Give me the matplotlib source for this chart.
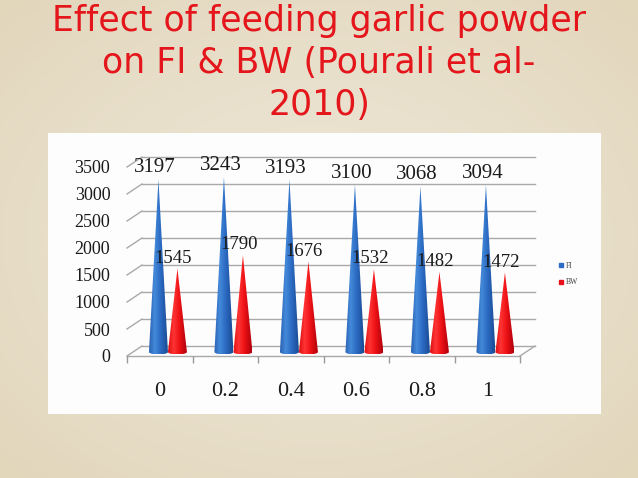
import matplotlib

matplotlib.use("Agg")
import matplotlib.pyplot as plt
import numpy as np
from matplotlib.colors import LinearSegmentedColormap
from matplotlib.lines import Line2D
from matplotlib.patches import PathPatch, Rectangle
from matplotlib.path import Path

# ---------- data ----------
doses = ["0", "0.2", "0.4", "0.6", "0.8", "1"]
fi_values = [3197, 3243, 3193, 3100, 3068, 3094]
bw_values = [1545, 1790, 1676, 1532, 1482, 1472]
series_names = ["FI", "BW"]
y_ticks = [0, 500, 1000, 1500, 2000, 2500, 3000, 3500]
title = "Effect of feeding garlic powder\non FI & BW (Pourali et al-\n2010)"

W, H = 638, 478
SERIF = "Liberation Serif"

# fake 3d geometry (data units of the front plane)
DEPTH_X, DEPTH_Y = 0.229, 185     # back wall offset
BASE_Y = 74                        # cones stand half way into the floor
CONE_W = 0.145                     # half width of a cone base
ELL_H = 45                         # half height of the base ellipse
FI_OFF, BW_OFF = 0.48, 0.77        # cone centres inside a category

BLUE = LinearSegmentedColormap.from_list(
    "blue", [(0, "#2a62b2"), (0.3, "#4489da"), (0.6, "#2c6cc3"), (1, "#1a4a94")])
RED = LinearSegmentedColormap.from_list(
    "red", [(0, "#dc0f12"), (0.3, "#ff3434"), (0.6, "#ee1216"), (1, "#b0000c")])


def px_box(left, top, right, bottom):
    return [left / W, 1 - bottom / H, (right - left) / W, (bottom - top) / H]


fig = plt.figure(figsize=(W / 100, H / 100), dpi=100)

# ---------- parchment background + white chart box ----------
bg = fig.add_axes([0, 0, 1, 1])
yy, xx = np.mgrid[0:1:240j, 0:1:320j]
r = np.clip(np.hypot((xx - 0.5) / 0.7, (yy - 0.5) / 0.7), 0, 1) ** 1.5
centre = np.array([236, 229, 212]) / 255
edge = np.array([226, 214, 187]) / 255
bg.imshow(centre + (edge - centre) * r[..., None], extent=(0, 1, 0, 1), aspect="auto")
bg.add_patch(Rectangle((48 / W, 1 - 414 / H), 553 / W, 281 / H,
                       facecolor="#fdfdfd", edgecolor="none"))
bg.set_xlim(0, 1)
bg.set_ylim(0, 1)
bg.axis("off")

# baseline of a multi-line text = baseline of its last line
fig.text(0.5, 1 - 115 / H, title, ha="center", va="baseline", fontsize=25,
         color="#e4161c", family="DejaVu Sans", linespacing=1.3)

# ---------- chart ----------
ax = fig.add_axes(px_box(127, 167, 520, 356))
ax.patch.set_alpha(0)
for s in ax.spines.values():
    s.set_visible(False)

n = len(doses)
grid_kw = dict(color="#a9a9a9", lw=1.0, clip_on=False, zorder=1)
for v in y_ticks:
    ax.plot([0, DEPTH_X], [v, v + DEPTH_Y], **grid_kw)
    ax.plot([DEPTH_X, n + DEPTH_X], [v + DEPTH_Y, v + DEPTH_Y], **grid_kw)
ax.plot([0, n], [0, 0], **grid_kw)
ax.plot([n, n + DEPTH_X], [0, DEPTH_Y], **grid_kw)


def cone(x, value, cmap):
    peak = BASE_Y + value
    t = np.linspace(np.pi, 2 * np.pi, 40)
    verts = [(x, peak)] + [(x + CONE_W * np.cos(a), BASE_Y + ELL_H * np.sin(a)) for a in t]
    verts.append((x, peak))
    codes = [Path.MOVETO] + [Path.LINETO] * (len(verts) - 2) + [Path.CLOSEPOLY]
    patch = PathPatch(Path(verts, codes), facecolor="none", edgecolor="none")
    ax.add_patch(patch)
    im = ax.imshow(np.linspace(0, 1, 128)[None, :], cmap=cmap, aspect="auto",
                   extent=(x - CONE_W, x + CONE_W, BASE_Y - ELL_H, peak),
                   interpolation="bilinear", zorder=3)
    im.set_clip_path(patch)
    return peak


for i, (fi, bw) in enumerate(zip(fi_values, bw_values)):
    p = cone(i + FI_OFF, fi, BLUE)
    ax.text(i + FI_OFF - 0.05, p + 130, f"{fi}", ha="center", va="baseline",
            fontsize=15, family=SERIF, color="#1a1a1a", zorder=5)
    p = cone(i + BW_OFF, bw, RED)
    ax.text(i + BW_OFF - 0.06, p + 110, f"{bw}", ha="center", va="baseline",
            fontsize=13.5, family=SERIF, color="#1a1a1a", zorder=5)

ax.set_xlim(0, n)
ax.set_ylim(0, 3500)
ax.set_yticks(y_ticks)
ax.set_yticklabels([str(v) for v in y_ticks], family=SERIF, fontsize=13)
ax.tick_params(axis="y", length=0, pad=12, labelcolor="#1a1a1a")
ax.set_xticks(np.arange(n) + 0.5)
ax.set_xticklabels(doses, family=SERIF, fontsize=16)
ax.set_xticks(np.arange(n + 1), minor=True)
ax.tick_params(axis="x", which="major", length=0, pad=19, labelcolor="#1a1a1a")
ax.tick_params(axis="x", which="minor", length=5, width=1, color="#9a9a9a", direction="out")

handles = [Line2D([], [], ls="", marker="s", markersize=3, color=c, label=nm)
           for nm, c in zip(series_names, ["#2c6cc3", "#e8101a"])]
ax.legend(handles=handles, loc="center left", bbox_to_anchor=(555 / W, 1 - 274 / H),
          bbox_transform=fig.transFigure, frameon=False, borderpad=0,
          handlelength=0.6, handletextpad=0.3, labelspacing=1.1,
          prop={"family": SERIF, "size": 5.5}, labelcolor="#444444")

fig.savefig("out.png", dpi=100)
